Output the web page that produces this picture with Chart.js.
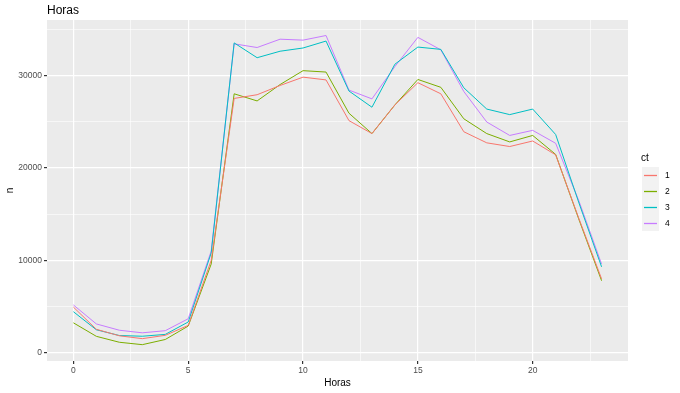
<!DOCTYPE html>
<html>
<head>
<meta charset="utf-8">
<script src="https://cdn.jsdelivr.net/npm/chart.js@4.4.1/dist/chart.umd.min.js"></script>
<style>
  body { margin: 0; background: #fff; }
  canvas { display: block; }
</style>
</head>
<body>
<canvas id="horasChart" width="680" height="393"></canvas>
<script>
// data
const hours = [0, 1, 2, 3, 4, 5, 6, 7, 8, 9, 10, 11, 12, 13, 14, 15, 16, 17, 18, 19, 20, 21, 22, 23];
const ct1 = [4950, 2550, 1850, 1540, 1900, 2970, 10000, 27500, 27900, 28900, 29800, 29500, 25100, 23700, 26800, 29200, 28000, 23900, 22700, 22300, 22900, 21400, 14600, 8000];
const ct2 = [3250, 1790, 1150, 890, 1450, 2900, 9600, 28000, 27230, 29000, 30500, 30350, 25900, 23700, 26800, 29550, 28700, 25300, 23700, 22800, 23500, 21450, 14500, 7800];
const ct3 = [4450, 2500, 1880, 1800, 2000, 3340, 10800, 33500, 31900, 32600, 32950, 33700, 28300, 26550, 31200, 33050, 32800, 28650, 26350, 25750, 26350, 23600, 16300, 9300];
const ct4 = [5180, 3130, 2450, 2170, 2400, 3690, 11000, 33400, 33000, 33900, 33800, 34300, 28400, 27450, 30950, 34100, 32750, 28250, 24950, 23500, 24050, 22650, 16500, 9600];
const seriesNames = ['1', '2', '3', '4'];
const seriesColors = ['#F8766D', '#7CAE00', '#00BFC4', '#C77CFF'];
const xTicks = [0, 2.5, 5, 7.5, 10, 12.5, 15, 17.5, 20, 22.5];
const yTicks = [0, 5000, 10000, 15000, 20000, 25000, 30000, 35000];

Chart.defaults.font.family = '"Liberation Sans", Arial, sans-serif';

function toPoints(vals) {
    return vals.map((v, i) => ({ x: hours[i], y: v }));
}

const datasets = [ct1, ct2, ct3, ct4].map((vals, i) => ({
    label: seriesNames[i],
    data: toPoints(vals),
    borderColor: seriesColors[i],
    borderWidth: 1,
    pointRadius: 0,
    fill: false,
    tension: 0
}));

// grey panel like ggplot
const panelBg = {
    id: 'panelBg',
    beforeDraw(chart) {
        const a = chart.chartArea, ctx = chart.ctx;
        ctx.save();
        ctx.fillStyle = '#EBEBEB';
        ctx.fillRect(a.left, a.top, a.right - a.left, a.bottom - a.top);
        ctx.restore();
    }
};

// title + legend on the right
const extras = {
    id: 'extras',
    afterDraw(chart) {
        const ctx = chart.ctx;
        ctx.save();
        ctx.fillStyle = '#000';
        ctx.font = '12px "Liberation Sans", Arial, sans-serif';
        ctx.textBaseline = 'alphabetic';
        ctx.fillText('Horas', chart.chartArea.left, 14);

        ctx.font = '10px "Liberation Sans", Arial, sans-serif';
        ctx.fillText('ct', 641, 161);
        ctx.font = '8.5px "Liberation Sans", Arial, sans-serif';
        chart.data.datasets.forEach((ds, i) => {
            const top = 167 + i * 16;
            ctx.fillStyle = '#F2F2F2';
            ctx.fillRect(642, top, 17, 16);
            ctx.strokeStyle = seriesColors[i];
            ctx.lineWidth = 1.3;
            ctx.beginPath();
            ctx.moveTo(644, top + 8.5);
            ctx.lineTo(657, top + 8.5);
            ctx.stroke();
            ctx.fillStyle = '#000';
            ctx.textBaseline = 'middle';
            ctx.fillText(ds.label, 665, top + 8.5);
        });
        ctx.restore();
    }
};

new Chart(document.getElementById('horasChart'), {
    type: 'line',
    data: { datasets: datasets },
    plugins: [panelBg, extras],
    options: {
        responsive: false,
        devicePixelRatio: 1,
        animation: false,
        layout: { padding: { top: 20, right: 52, left: 0, bottom: 0 } },
        plugins: {
            legend: { display: false },
            tooltip: { enabled: false }
        },
        scales: {
            x: {
                type: 'linear',
                min: -1.15,
                max: 24.15,
                afterBuildTicks: (scale) => { scale.ticks = xTicks.map(v => ({ value: v })); },
                afterFit: (scale) => { scale.height = 32; },
                grid: {
                    color: '#FFFFFF',
                    lineWidth: (c) => (c.tick && c.tick.value % 5 === 0) ? 1.2 : 0.6,
                    tickLength: 3,
                    tickColor: (c) => (c.tick && c.tick.value % 5 === 0) ? '#333333' : 'rgba(0,0,0,0)'
                },
                border: { display: false },
                ticks: {
                    autoSkip: false,
                    maxRotation: 0,
                    padding: 2,
                    color: '#4D4D4D',
                    font: { size: 8.5 },
                    callback: (v) => (v % 5 === 0) ? String(v) : ''
                },
                title: {
                    display: true,
                    text: 'Horas',
                    color: '#000',
                    font: { size: 10 },
                    padding: { top: 0, bottom: 4 }
                }
            },
            y: {
                min: -875,
                max: 35975,
                afterBuildTicks: (scale) => { scale.ticks = yTicks.map(v => ({ value: v })); },
                afterFit: (scale) => { scale.width = 47; },
                grid: {
                    color: '#FFFFFF',
                    lineWidth: (c) => (c.tick && c.tick.value % 10000 === 0) ? 1.2 : 0.6,
                    tickLength: 3,
                    tickColor: (c) => (c.tick && c.tick.value % 10000 === 0) ? '#333333' : 'rgba(0,0,0,0)'
                },
                border: { display: false },
                ticks: {
                    autoSkip: false,
                    padding: 2,
                    color: '#4D4D4D',
                    font: { size: 8.5 },
                    callback: (v) => (v % 10000 === 0) ? String(v) : ''
                },
                title: {
                    display: true,
                    text: 'n',
                    color: '#000',
                    font: { size: 10 },
                    padding: { top: 4, bottom: 0 }
                }
            }
        }
    }
});
</script>
</body>
</html>
